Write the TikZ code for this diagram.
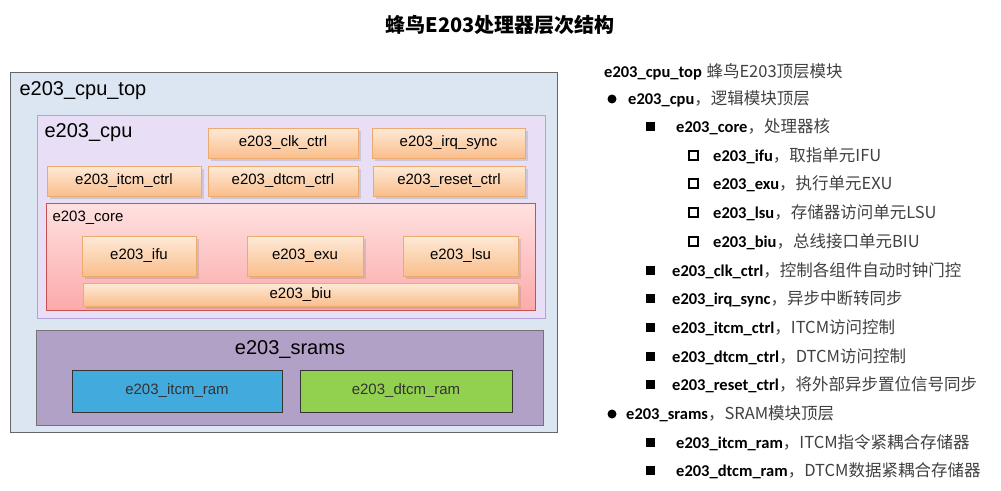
\documentclass[tikz,border=0pt]{standalone}
\usepackage{fontspec}
\setmainfont{Liberation Sans}
\newfontfamily\cjk{Noto Sans CJK SC}
\newfontfamily\calfont{Carlito}
\usetikzlibrary{shadows}
\definecolor{topfill}{RGB}{220,230,242}
\definecolor{cpufill}{RGB}{232,222,246}
\definecolor{cpuline}{RGB}{180,160,215}
\definecolor{modtop}{RGB}{253,234,215}
\definecolor{modbot}{RGB}{250,190,140}
\definecolor{modline}{RGB}{235,170,110}
\definecolor{coretop}{RGB}{255,225,225}
\definecolor{corebot}{RGB}{252,170,170}
\definecolor{coreline}{RGB}{200,80,80}
\definecolor{sramfill}{RGB}{178,161,199}
\definecolor{itcmfill}{RGB}{66,170,220}
\definecolor{dtcmfill}{RGB}{146,208,80}
\tikzset{
  mod/.style={draw=modline, top color=modtop, bottom color=modbot, drop shadow={opacity=0.25}},
  modtxt/.style={font=\fontsize{15}{15}\selectfont},
  biglbl/.style={font=\fontsize{20}{20}\selectfont},
  desc/.style={anchor=base west, inner sep=0pt, font=\fontsize{16.5}{17}\selectfont},
}
\newcommand{\nm}[1]{{\calfont\bfseries #1}}
\newcommand{\cn}[1]{{\cjk\color{black!75}#1}}
\newcommand{\bdot}[2]{\fill (#1,#2-5) circle (4.5pt);}
\newcommand{\bsq}[2]{\fill (#1-4.5,#2-10) rectangle ++(9,9);}
\newcommand{\bosq}[2]{\draw[line width=2pt] (#1-4.5,#2-10) rectangle ++(9,9);}
\begin{document}
\begin{tikzpicture}[x=1pt, y=-1pt]
\useasboundingbox (0,0) rectangle (1001,490);
\node[font=\cjk\bfseries\fontsize{20}{20}\selectfont] (title) at (500,25) {蜂鸟E203处理器层次结构};
% left diagram
\draw[black!60, fill=topfill] (10,72) rectangle (557,432);
\node[anchor=west, biglbl] (toplbl) at (16,91) {e203\_cpu\_top};
\draw[cpuline, fill=cpufill] (37,115) rectangle (545,318);
\node[anchor=west, biglbl] (cpulbl) at (41,133) {e203\_cpu};
\foreach \x/\y/\w/\t in {208/128/150/clk\_ctrl, 372/128/153/irq\_sync, 47/166/154/itcm\_ctrl, 208/166/150/dtcm\_ctrl, 373/166/152/reset\_ctrl}
  \draw[mod] (\x,\y) rectangle ++(\w,30) node[modtxt, midway] {e203\_\t};
\draw[coreline, top color=coretop, bottom color=corebot] (46,203) rectangle (535,310);
\node[anchor=west, font=\fontsize{15}{15}\selectfont] (corelbl) at (49,218) {e203\_core};
\foreach \x/\w/\t in {82/114/ifu, 247/116/exu, 403/115/lsu}
  \draw[mod] (\x,236) rectangle ++(\w,40) node[modtxt, midway] {e203\_\t};
\draw[mod] (83,283) rectangle (518,306) node[modtxt, midway] {e203\_biu};
\draw[black!55, fill=sramfill] (36,330) rectangle (543,425);
\node[biglbl] (sramlbl) at (290,349) {e203\_srams};
\draw[black!80, fill=itcmfill] (72,370) rectangle (282,412) node[modtxt, midway] {e203\_itcm\_ram};
\draw[black!80, fill=dtcmfill] (300,370) rectangle (512,412) node[modtxt, midway] {e203\_dtcm\_ram};
% right list
\node[desc] (l1) at (604,77) {\nm{e203\_cpu\_top} \cn{蜂鸟E203顶层模块}};
\bdot{612}{104}
\node[desc] (l2) at (628,104) {\nm{e203\_cpu}\cn{，逻辑模块顶层}};
\bsq{650}{132}
\node[desc] (l3) at (676,132) {\nm{e203\_core}\cn{，处理器核}};
\foreach \y/\t/\c in {161/ifu/取指单元IFU, 189/exu/执行单元EXU, 218/lsu/存储器访问单元LSU, 247/biu/总线接口单元BIU}{
  \bosq{693}{\y}
  \node[desc] at (713,\y) {\nm{e203\_\t}\cn{，\c}};
}
\foreach \y/\t/\c in {276/clk\_ctrl/控制各组件自动时钟门控, 304/irq\_sync/异步中断转同步, 333/itcm\_ctrl/ITCM访问控制, 362/dtcm\_ctrl/DTCM访问控制, 390/reset\_ctrl/将外部异步置位信号同步}{
  \bsq{650}{\y}
  \node[desc] at (672,\y) {\nm{e203\_\t}\cn{，\c}};
}
\bdot{612}{419}
\node[desc] (l4) at (626,419) {\nm{e203\_srams}\cn{，SRAM模块顶层}};
\bsq{650}{448}
\node[desc] (l5) at (676,448) {\nm{e203\_itcm\_ram}\cn{，ITCM指令紧耦合存储器}};
\bsq{650}{476}
\node[desc] (l6) at (676,476) {\nm{e203\_dtcm\_ram}\cn{，DTCM数据紧耦合存储器}};
\end{tikzpicture}
\end{document}
